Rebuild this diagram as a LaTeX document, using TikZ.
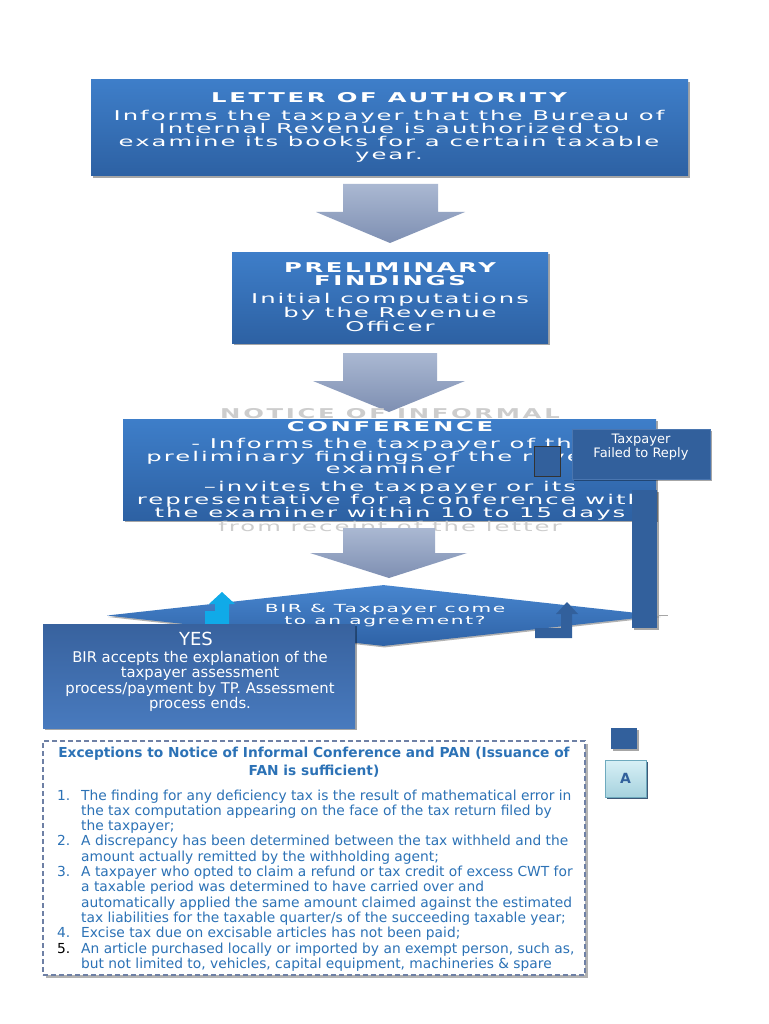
\documentclass[tikz,border=0pt]{standalone}
\usepackage{fontspec}
\setmainfont{DejaVu Sans}
\usetikzlibrary{shadows,shapes.geometric}
\newfontfamily\wfont[FakeStretch=1.8,LetterSpace=15]{DejaVu Sans}
\newfontfamily\wtfont[FakeStretch=1.8,LetterSpace=20]{DejaVu Sans}
\definecolor{boxtop}{RGB}{62,126,201}
\definecolor{boxbot}{RGB}{45,97,163}
\definecolor{arrtop}{RGB}{170,184,210}
\definecolor{arrbot}{RGB}{126,143,178}
\definecolor{dkblue}{RGB}{50,96,156}
\definecolor{cyanar}{RGB}{16,170,232}
\definecolor{exblue}{RGB}{44,114,182}
\definecolor{dashc}{RGB}{110,128,165}
\definecolor{ghost}{RGB}{205,205,205}
\definecolor{atop}{RGB}{216,240,246}
\definecolor{abot}{RGB}{166,210,222}
\tikzset{
  shd/.style={drop shadow={shadow xshift=2pt,shadow yshift=-2pt,fill=black,opacity=0.35}},
  bluebox/.style={rectangle,inner sep=0,top color=boxtop,bottom color=boxbot,shd},
  flatbox/.style={rectangle,inner sep=0,fill=dkblue,shd},
  ttl/.style={anchor=base,inner sep=0,text=white,font=\wtfont\bfseries\fontsize{13.5}{13}\selectfont},
  bdy/.style={anchor=base,inner sep=0,text=white,font=\wfont\fontsize{13.5}{13}\selectfont},
  gst/.style={anchor=base,inner sep=0,text=ghost,font=\wfont\fontsize{13.5}{13}\selectfont},
  gstt/.style={anchor=base,inner sep=0,text=ghost,font=\wtfont\bfseries\fontsize{13.5}{13}\selectfont},
  dtx/.style={anchor=base,inner sep=0,text=white,font=\wfont\fontsize{11.2}{12}\selectfont},
  ytx/.style={anchor=base,inner sep=0,text=white,font=\fontsize{14.8}{15}\selectfont},
  ftx/.style={anchor=base,inner sep=0,text=white,font=\fontsize{13}{14}\selectfont},
  lst/.style={anchor=base west,inner sep=0,text=exblue,font=\fontsize{13.8}{15}\selectfont},
  lsth/.style={anchor=base,inner sep=0,text=exblue,font=\bfseries\fontsize{13.75}{15}\selectfont},
  blockarrow/.style={top color=arrtop,bottom color=arrbot}
}
\begin{document}
\begin{tikzpicture}[x=1pt,y=-1pt]
\useasboundingbox (0,0) rectangle (768,1024);
\fill[white] (0,0) rectangle (768,1024);

% Letter of authority
\node[bluebox,minimum width=597pt,minimum height=96pt] (loa) at (389.5,128) {};
\node[ttl] (loa0) at (389,103) {LETTER OF AUTHORITY};
\foreach \t [count=\i] in {Informs the taxpayer that the Bureau of,Internal Revenue is authorized to,examine its books for a certain taxable,year.}
  \node[bdy] (loa\i) at (389,107+13.2*\i) {\t};

% arrow 1
\shade[blockarrow] (343,184) -- (438,184) -- (438,212) -- (465,212) -- (390,243) -- (316,212) -- (343,212) -- cycle;

% Preliminary findings
\node[bluebox,minimum width=316pt,minimum height=91pt] (pf) at (390,297.5) {};
\node[ttl] (pf0a) at (390,272) {PRELIMINARY};
\node[ttl] (pf0b) at (390,285) {FINDINGS};
\foreach \t [count=\i] in {Initial computations,by the Revenue,Officer}
  \node[bdy] (pf\i) at (390,289+14*\i) {\t};

% arrow 2
\shade[blockarrow] (343,353) -- (437,353) -- (437,381) -- (465,381) -- (389,412) -- (313,381) -- (343,381) -- cycle;

% Notice of informal conference
\node[bluebox,minimum width=533pt,minimum height=101pt] (nic) at (389.5,469.5) {};
\node[gstt] (nic0a) at (390,418) {NOTICE OF INFORMAL};
\node[ttl] (nic0b) at (390,431) {CONFERENCE};
\node[bdy] (nic1) at (390,448) {- Informs the taxpayer of the};
\node[bdy] (nic2) at (390,461) {preliminary findings of the revenue};
\node[bdy] (nic3) at (390,473) {examiner};
\node[bdy] (nic4) at (390,491) {–invites the taxpayer or its};
\node[bdy] (nic5) at (390,504) {representative for a conference with};
\node[bdy] (nic6) at (390,517) {the examiner within 10 to 15 days};
\node[gst] (nic7) at (390,531) {from receipt of the letter};

% arrow 3
\shade[blockarrow] (343,528) -- (435,528) -- (435,553) -- (467,553) -- (389,578) -- (310,553) -- (343,553) -- cycle;

% decision diamond
\node[diamond,shape aspect=9,minimum width=553pt,minimum height=61pt,inner sep=0,
      top color={rgb,255:red,72;green,134;blue,207},bottom color={rgb,255:red,46;green,98;blue,166},
      drop shadow={shadow xshift=1pt,shadow yshift=-1.5pt,fill=black,opacity=0.3}] (dia) at (383.5,615.5) {};
\node[dtx] (dia1) at (385,612) {BIR \& Taxpayer come};
\node[dtx] (dia2) at (385,624) {to an agreement?};

% right vertical bar (failed to reply path)
\node[flatbox,minimum width=25pt,minimum height=138pt] (bar) at (644.5,559) {};
\draw[gray!70,line width=0.8pt] (bar.east |- dia.east) -- ++(11,0) coordinate (barend);

% taxpayer failed to reply
\node[flatbox,draw={rgb,255:red,74;green,118;blue,176},minimum width=138pt,minimum height=50pt] (fail) at (641,454) {};
\node[ftx] (fail1) at (641,443) {Taxpayer};
\node[ftx] (fail2) at (641,457) {Failed to Reply};
\node[rectangle,inner sep=0,fill=dkblue,draw=black!80,line width=0.6pt,minimum width=26pt,minimum height=30pt] (sq1) at (547,461) {};

% cyan bent-up arrow
\fill[cyanar] (205,625) -- (205,611) -- (215,611) -- (215,604) -- (209,604) -- (222,592) -- (235,604) -- (229,604) -- (229,625) -- cycle;
% dark bent-up arrow
\fill[dkblue] (535,638) -- (535,628) -- (561,628) -- (561,614) -- (556,614) -- (567,602) -- (578,614) -- (572,614) -- (572,638) -- cycle;

% YES box
\node[rectangle,inner sep=0,minimum width=312pt,minimum height=104pt,
      top color={rgb,255:red,56;green,98;blue,158},bottom color={rgb,255:red,72;green,122;blue,190},shd] (yes) at (199,676) {};
\node[ytx,font=\fontsize{18}{18}\selectfont] (yes0) at (196,645) {YES};
\node[ytx] (yes1) at (200,662) {BIR accepts the explanation of the};
\node[ytx] (yes2) at (200,677) {taxpayer assessment};
\node[ytx] (yes3) at (200,693) {process/payment by TP. Assessment};
\node[ytx] (yes4) at (200,708) {process ends.};

% small square and A box
\node[flatbox,minimum width=26pt,minimum height=21pt] (sq2) at (624,738.5) {};
\node[rectangle,inner sep=0,minimum width=41pt,minimum height=37pt,top color=atop,bottom color=abot,
      draw={rgb,255:red,110;green,170;blue,190},line width=0.5pt,
      drop shadow={shadow xshift=2pt,shadow yshift=-2pt,fill={rgb,255:red,40;green,70;blue,105},opacity=0.9},
      text=dkblue,font=\bfseries\fontsize{14}{14}\selectfont] (abox) at (625.5,778.5) {A};

% Exceptions box
\node[rectangle,inner sep=0,minimum width=542pt,minimum height=234pt,fill=white,draw=dashc,line width=1.1pt,
      dash pattern=on 5pt off 3pt,
      drop shadow={shadow xshift=2.5pt,shadow yshift=-2.5pt,fill=black,opacity=0.3}] (exc) at (314,858) {};
\node[lsth] (exh1) at (314,757) {Exceptions to Notice of Informal Conference and PAN (Issuance of};
\node[lsth] (exh2) at (314,775) {FAN is sufficient)};
\node[lst] (n1) at (57,800) {1.};
\node[lst] (l1) at (81,800) {The finding for any deficiency tax is the result of mathematical error in};
\node[lst] (l2) at (81,815.3) {the tax computation appearing on the face of the tax return filed by};
\node[lst] (l3) at (81,830.6) {the taxpayer;};
\node[lst] (n2) at (57,845.9) {2.};
\node[lst] (l4) at (81,845.9) {A discrepancy has been determined between the tax withheld and the};
\node[lst] (l5) at (81,861.2) {amount actually remitted by the withholding agent;};
\node[lst] (n3) at (57,876.5) {3.};
\node[lst] (l6) at (81,876.5) {A taxpayer who opted to claim a refund or tax credit of excess CWT for};
\node[lst] (l7) at (81,891.8) {a taxable period was determined to have carried over and};
\node[lst] (l8) at (81,907.1) {automatically applied the same amount claimed against the estimated};
\node[lst] (l9) at (81,922.4) {tax liabilities for the taxable quarter/s of the succeeding taxable year;};
\node[lst] (n4) at (57,937.7) {4.};
\node[lst] (l10) at (81,937.7) {Excise tax due on excisable articles has not been paid;};
\node[lst,text=black] (n5) at (57,953) {5.};
\node[lst] (l11) at (81,953) {An article purchased locally or imported by an exempt person, such as,};
\node[lst] (l12) at (81,968.3) {but not limited to, vehicles, capital equipment, machineries \& spare};
\end{tikzpicture}
\end{document}
